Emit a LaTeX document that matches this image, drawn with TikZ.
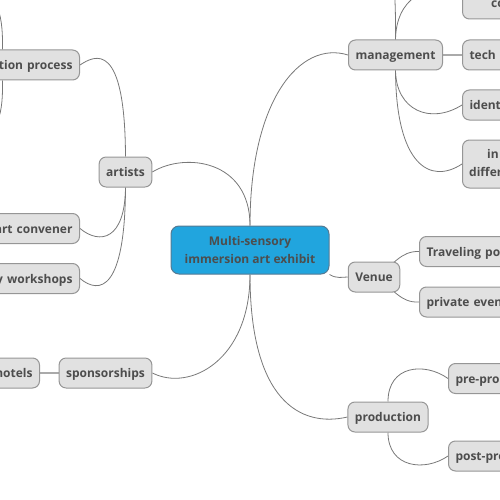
\documentclass[tikz,border=0pt]{standalone}
\usepackage{fontspec}
\setmainfont{Open Sans}
\usepackage{tikz}
\usetikzlibrary{backgrounds}
\definecolor{topicFill}{RGB}{225,225,225}
\definecolor{topicBorder}{RGB}{150,150,150}
\definecolor{topicText}{RGB}{77,77,77}
\definecolor{centralFill}{RGB}{33,165,222}
\definecolor{centralBorder}{RGB}{84,122,148}
\definecolor{branchLine}{RGB}{120,120,120}
\definecolor{stemLine}{RGB}{170,170,170}

\begin{document}
\begin{tikzpicture}[x=1pt, y=-1pt,
    topicfont/.style={font=\fontsize{12}{17.7}\selectfont\bfseries, text=topicText},
    topic/.style={topicfont, draw=topicBorder, fill=topicFill, line width=1pt, rounded corners=7pt,
        minimum height=30pt, inner xsep=7pt, inner ysep=0pt, text height=11pt, text depth=2pt},
    central/.style={topicfont, draw=centralBorder, fill=centralFill, line width=1pt, rounded corners=8pt,
        minimum width=158pt, minimum height=48pt, align=center},
    leftcut/.style={topic, anchor=east, text width=140pt, align=right},
    rightcut/.style={topic, anchor=west, text width=120pt, align=left},
    linetext/.style={topicfont, inner sep=0pt, anchor=base west},
    branch/.style={draw=branchLine, line width=0.8pt},
    stem/.style={draw=stemLine, line width=1.6pt}]
    \useasboundingbox (0,0) rectangle (500,500);
    \clip (0,0) rectangle (500,500);

    \node[central] (center) at (250,250) {Multi-sensory\\immersion art exhibit};

    \node[topic, minimum width=51pt] (artists) at (125.5,172) {artists};
    \node[topic, minimum width=91pt] (spons) at (105.5,373) {sponsorships};
    \node[topic, minimum width=93pt] (mgmt) at (395.5,55) {management};
    \node[topic, minimum width=50pt] (venue) at (374,277) {Venue};
    \node[topic, minimum width=78pt] (prod) at (388,417) {production};

    \node[leftcut] (tion) at (80,65) {tion process};
    \node[leftcut] (convener) at (80,228.5) {art convener};
    \node[leftcut] (workshops) at (80,278.5) {y workshops};
    \node[leftcut, text width=100pt] (hotels) at (40,373) {hotels};

    \node[topic, anchor=west, minimum width=80pt, minimum height=48pt] (cobox) at (462,-5) {};
    \node[linetext] (cotext) at (491,7.5) {co};
    \node[rightcut] (tech) at (462,55) {tech s};
    \node[rightcut] (ident) at (462,105) {ident};
    \node[topic, anchor=west, minimum width=80pt, minimum height=48pt] (intbox) at (462,164) {};
    \node[linetext] (intone) at (487,158) {in};
    \node[linetext] (inttwo) at (469,176.5) {differ};
    \node[rightcut] (travel) at (419,251.5) {Traveling po};
    \node[rightcut] (private) at (419,302) {private even};
    \node[rightcut] (pre) at (448,378.5) {pre-pro};
    \node[rightcut] (post) at (448,456) {post-pro};

    \coordinate (mup) at (393,-40);
    \coordinate (tionup) at (-30,-15);
    \coordinate (tiondown) at (-30,135);

    \begin{scope}[on background layer]
        \clip (0,0) rectangle (500,500);
        \draw[branch] (center.north) .. controls (250,160) and (185,152) .. (artists.east);
        \draw[branch] (center.north) .. controls (250,100) and (300,40) .. (mgmt.west);
        \draw[branch] (center.south) .. controls (250,360) and (190,392) .. (spons.east);
        \draw[branch] (center.south) .. controls (250,400) and (300,428) .. (prod.west);
        \draw[branch] (center.south east) .. controls (337,279) and (342,277) .. (venue.west);

        \draw[branch] (venue.center) .. controls (395,265) and (400,251) .. (travel.west);
        \draw[branch] (venue.center) .. controls (395,289) and (400,303) .. (private.west);

        \draw[branch] (prod.north) .. controls (388,365) and (425,362) .. (pre.west);
        \draw[branch] (prod.south) .. controls (388,468) and (425,472) .. (post.west);

        \draw[branch] (mgmt.north) .. controls (396,0) and (425,-20) .. (cobox.west);
        \draw[branch] (mgmt.north) .. controls (396,10) and (394,-20) .. (mup);
        \draw[stem] (mgmt.east) -- (tech.west);
        \draw[branch] (mgmt.south) .. controls (396,110) and (430,125) .. (ident.west);
        \draw[branch] (mgmt.south) .. controls (396,165) and (430,185) .. (intbox.west);

        \draw[branch] (artists.north) .. controls (125,40) and (95,55) .. (tion.east);
        \draw[branch] (artists.south) .. controls (125,240) and (100,245) .. (convener.east);
        \draw[branch] (artists.south) .. controls (125,290) and (100,295) .. (workshops.east);

        \draw[branch] (tion.north) .. controls (3,20) and (0,-10) .. (tionup);
        \draw[branch] (tion.south) .. controls (3,110) and (0,140) .. (tiondown);

        \draw[stem] (spons.west) -- (hotels.east);
    \end{scope}
\end{tikzpicture}
\end{document}
